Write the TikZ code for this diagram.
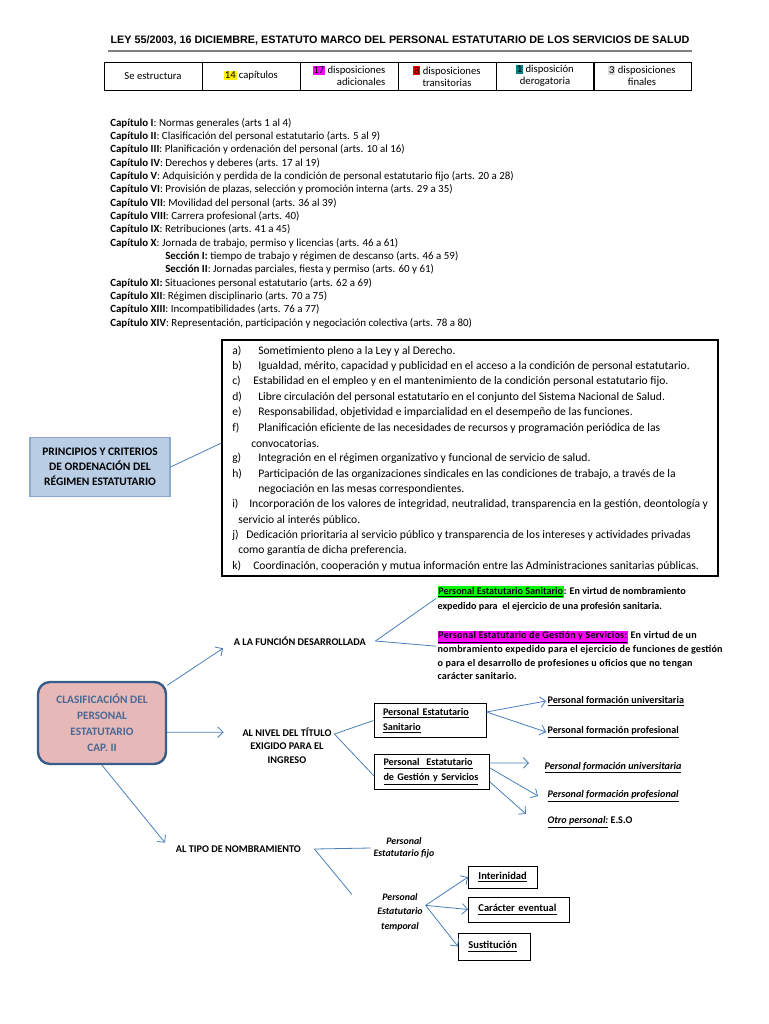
\documentclass[tikz,border=0pt]{standalone}
\usepackage{fontspec}
\setmainfont{Carlito}
\newfontfamily\titlefont{Liberation Sans}
\usetikzlibrary{arrows.meta}

\definecolor{linkblue}{HTML}{4A7EBB}
\definecolor{prinfill}{HTML}{B9CDE5}
\definecolor{prindraw}{HTML}{8DA9D0}
\definecolor{clasfill}{HTML}{E6B9B8}
\definecolor{clasdraw}{HTML}{385D8A}
\definecolor{clastext}{HTML}{4A6894}
\definecolor{hlgreen}{HTML}{00FF00}
\definecolor{hlpink}{HTML}{FF00FF}
\definecolor{hlred}{HTML}{FF0000}
\definecolor{hlteal}{HTML}{008080}
\definecolor{hlgray}{HTML}{D9D9D9}
\definecolor{rulegray}{HTML}{7F7F7F}

\newcommand{\marca}[2]{{\setlength{\fboxsep}{0.6pt}\colorbox{#1}{#2}}}

\begin{document}
\begin{tikzpicture}[x=0.75pt,y=-0.75pt]

\tikzstyle{cell}=[draw,minimum width=73.5pt,minimum height=21pt,inner sep=0pt,align=center,font=\fontsize{8}{9}\selectfont];
\tikzstyle{capline}=[anchor=west,inner sep=0pt,font=\fontsize{8.2}{9}\selectfont];
\tikzstyle{item}=[anchor=west,inner sep=0pt,font=\fontsize{8.7}{10}\selectfont];
\tikzstyle{lab}=[inner sep=2pt,font=\bfseries\fontsize{7.7}{10.1}\selectfont];
\tikzstyle{desc}=[anchor=west,align=left,inner sep=1pt];
\tikzstyle{ref}=[anchor=west,inner sep=1pt,font=\bfseries\fontsize{7.6}{9}\selectfont];
\tikzstyle{tbox}=[draw,line width=0.7pt,align=left,minimum height=26pt,inner xsep=6.75pt,font=\bfseries\fontsize{7.6}{11.25}\selectfont];
\tikzstyle{nbox}=[draw,line width=0.7pt,anchor=west,align=left,inner xsep=7.5pt,font=\bfseries\fontsize{7.9}{9}\selectfont];
\tikzstyle{link}=[linkblue,line width=0.6pt];
\tikzstyle{arr}=[link,-{Straight Barb[length=4pt,width=8pt]}];

\useasboundingbox (0,0) rectangle (768,1024);

% title and table
\node[font=\titlefont\bfseries\fontsize{8.1}{9}\selectfont] (title) at (400,40) {LEY 55/2003, 16 DICIEMBRE, ESTATUTO MARCO DEL PERSONAL ESTATUTARIO DE LOS SERVICIOS DE SALUD};
\draw[rulegray,line width=1.5pt] (108,51) -- (692,51);

\node[cell] (t1) at (153,76) {Se estructura};
\node[cell] (t2) at (251,76) {\marca{yellow}{14} capítulos};
\node[cell,align=right] (t3) at (349,76) {\marca{hlpink}{17} disposiciones\\adicionales};
\node[cell] (t4) at (447,76) {\marca{hlred}{8} disposiciones\\transitorias};
\node[cell] (t5) at (545,76) {\marca{hlteal}{1} disposición\\derogatoria};
\node[cell] (t6) at (642,76) {\marca{hlgray}{3} disposiciones\\finales};

% capitulos
\node[capline] (c1) at (110,123) {\textbf{Capítulo I}: Normas generales (arts 1 al 4)};
\node[capline] (c2) at (110,136.3) {\textbf{Capítulo II}: Clasificación del personal estatutario (arts. 5 al 9)};
\node[capline] (c3) at (110,149.7) {\textbf{Capítulo III}: Planificación y ordenación del personal (arts. 10 al 16)};
\node[capline] (c4) at (110,163) {\textbf{Capítulo IV}: Derechos y deberes (arts. 17 al 19)};
\node[capline] (c5) at (110,176.3) {\textbf{Capítulo V}: Adquisición y perdida de la condición de personal estatutario fijo (arts. 20 a 28)};
\node[capline] (c6) at (110,189.7) {\textbf{Capítulo VI}: Provisión de plazas, selección y promoción interna (arts. 29 a 35)};
\node[capline] (c7) at (110,203) {\textbf{Capítulo VII}: Movilidad del personal (arts. 36 al 39)};
\node[capline] (c8) at (110,216.3) {\textbf{Capítulo VIII}: Carrera profesional (arts. 40)};
\node[capline] (c9) at (110,229.7) {\textbf{Capítulo IX}: Retribuciones (arts. 41 a 45)};
\node[capline] (c10) at (110,243) {\textbf{Capítulo X}: Jornada de trabajo, permiso y licencias (arts. 46 a 61)};
\node[capline] (s1) at (165,256.3) {\textbf{Sección I:} tiempo de trabajo y régimen de descanso (arts. 46 a 59)};
\node[capline] (s2) at (165,269.7) {\textbf{Sección II}: Jornadas parciales, fiesta y permiso (arts. 60 y 61)};
\node[capline] (c11) at (110,283) {\textbf{Capítulo XI:} Situaciones personal estatutario (arts. 62 a 69)};
\node[capline] (c12) at (110,296.3) {\textbf{Capítulo XII}: Régimen disciplinario (arts. 70 a 75)};
\node[capline] (c13) at (110,309.7) {\textbf{Capítulo XIII}: Incompatibilidades (arts. 76 a 77)};
\node[capline] (c14) at (110,323) {\textbf{Capítulo XIV}: Representación, participación y negociación colectiva (arts. 78 a 80)};

% principios
\node[draw,line width=0.8pt,minimum width=372pt,minimum height=177pt] (pbox) at (470,458) {};
\node[item] (pa) at (232,351) {\makebox[19.5pt][l]{a)}Sometimiento pleno a la Ley y al Derecho.};
\node[item] (pb) at (232,366.4) {\makebox[19.5pt][l]{b)}Igualdad, mérito, capacidad y publicidad en el acceso a la condición de personal estatutario.};
\node[item] (pc) at (232,381.7) {\makebox[15.75pt][l]{c)}Estabilidad en el empleo y en el mantenimiento de la condición personal estatutario fijo.};
\node[item] (pd) at (232,397.1) {\makebox[19.5pt][l]{d)}Libre circulación del personal estatutario en el conjunto del Sistema Nacional de Salud.};
\node[item] (pe) at (232,412.4) {\makebox[19.5pt][l]{e)}Responsabilidad, objetividad e imparcialidad en el desempeño de las funciones.};
\node[item] (pf) at (232,427.8) {\makebox[19.5pt][l]{f)}Planificación eficiente de las necesidades de recursos y programación periódica de las};
\node[item] (pf2) at (251,443.2) {convocatorias.};
\node[item] (pg) at (232,458.5) {\makebox[19.5pt][l]{g)}Integración en el régimen organizativo y funcional de servicio de salud.};
\node[item] (ph) at (232,473.9) {\makebox[19.5pt][l]{h)}Participación de las organizaciones sindicales en las condiciones de trabajo, a través de la};
\node[item] (ph2) at (258,489.2) {negociación en las mesas correspondientes.};
\node[item] (pi) at (232,504.6) {\makebox[12.75pt][l]{i)}Incorporación de los valores de integridad, neutralidad, transparencia en la gestión, deontología y};
\node[item] (pi2) at (238,520) {servicio al interés público.};
\node[item] (pj) at (232,535.3) {\makebox[10.5pt][l]{j)}Dedicación prioritaria al servicio público y transparencia de los intereses y actividades privadas};
\node[item] (pj2) at (238,550.7) {como garantía de dicha preferencia.};
\node[item] (pk) at (232,566) {\makebox[15.75pt][l]{k)}Coordinación, cooperación y mutua información entre las Administraciones sanitarias públicas.};

\node[draw=prindraw,fill=prinfill,line width=0.8pt,minimum width=105pt,minimum height=44.25pt,align=center,font=\bfseries\fontsize{8.6}{11.25}\selectfont] (prin) at (100,467) {PRINCIPIOS Y CRITERIOS\\DE ORDENACIÓN DEL\\RÉGIMEN ESTATUTARIO};
\draw[link] (prin.east) -- ([yshift=11.25pt]pbox.west);

% clasificacion
\node[draw=clasdraw,fill=clasfill,line width=1.8pt,rounded corners=9pt,minimum width=96pt,minimum height=61.5pt,align=center,text=clastext,font=\bfseries\fontsize{8.5}{12}\selectfont] (clas) at (102,723) {CLASIFICACIÓN DEL\\PERSONAL\\ESTATUTARIO\\CAP. II};

\node[lab,anchor=west] (fun) at (231,641) {A LA FUNCIÓN DESARROLLADA};
\node[lab,align=center] (niv) at (287,745.5) {AL NIVEL DEL TÍTULO\\EXIGIDO PARA EL\\INGRESO};
\node[lab,anchor=west] (tipo) at (173,849) {AL TIPO DE NOMBRAMIENTO};

\draw[arr] (clas.30) -- ([xshift=-6pt]fun.south west);
\draw[arr] ([yshift=-7pt]clas.east) -- ([xshift=-12pt,yshift=10pt]niv.west);
\draw[arr] (clas.south) -- ([xshift=-6pt]tipo.north west);

% a la funcion desarrollada
\node[desc,font=\bfseries\fontsize{7.6}{11.25}\selectfont] (san) at (436,598.5) {\marca{hlgreen}{\underline{Personal Estatutario Sanitario}}: En virtud de nombramiento\\expedido para\ \ el ejercicio de una profesión sanitaria.};
\node[desc,font=\bfseries\fontsize{7.6}{10.25}\selectfont\addfontfeature{LetterSpace=2}] (ges) at (436,655.5) {\marca{hlpink}{\underline{Personal Estatutario de Gestión y Servicios:}} En virtud de un\\nombramiento expedido para el ejercicio de funciones de gestión\\o para el desarrollo de profesiones u oficios que no tengan\\carácter sanitario.};
\coordinate (funr) at ([xshift=5pt]fun.east);
\draw[link] (funr) -- (san.west);
\draw[link] (funr) -- ([yshift=7pt]ges.west);

% al nivel del titulo
\node[tbox,text width=70.5pt] (sanbox) at (430,720.5) {\underline{Personal Estatutario}\\\underline{Sanitario}};
\node[tbox,text width=72.75pt] (gesbox) at (432,772) {\underline{Personal\ \ Estatutario}\\\underline{de Gestión y Servicios}};
\coordinate (nivr) at ([yshift=8.6pt]niv.east);
\draw[link] (nivr) -- (sanbox.west);
\draw[link] (nivr) -- ([yshift=-3pt]gesbox.west);

\node[ref] (u1) at (546,701) {\underline{Personal formación universitaria}};
\node[ref] (p1) at (546,732) {\underline{Personal formación profesional}};
\node[ref] (u2) at (543,768) {\underline{\textit{Personal formación universitaria}}};
\node[ref] (p2) at (546,796) {\underline{\textit{Personal formación profesional}}};
\node[ref] (otro) at (546,822) {\underline{\textit{Otro personal:}} E.S.O};

\draw[arr] ([yshift=6.4pt]sanbox.east) -- (u1.west);
\draw[arr] ([yshift=6.4pt]sanbox.east) -- (p1.west);
\draw[arr] ([yshift=6.8pt]gesbox.east) -- ([xshift=-10.5pt,yshift=3.75pt]u2.west);
\draw[arr] ([yshift=3pt]gesbox.east) -- ([xshift=-6pt]p2.west);
\draw[arr] ([yshift=-7.5pt]gesbox.east) -- ([xshift=-15pt,yshift=6pt]otro.west);

% al tipo de nombramiento
\node[lab,align=center,font=\bfseries\itshape\fontsize{7.4}{9}\selectfont] (fijo) at (404,848) {Personal\\Estatutario fijo};
\node[lab,align=center,font=\bfseries\itshape\fontsize{7.4}{10.9}\selectfont] (temp) at (400,912) {Personal\\Estatutario\\temporal};
\coordinate (tipor) at ([xshift=8pt]tipo.east);
\draw[link] (tipor) -- (fijo.west);
\draw[link] (tipor) -- ([xshift=-17pt,yshift=-3pt]temp.north west);

\node[nbox,text width=36.75pt,minimum height=16.5pt] (inter) at (468,877) {\underline{Interinidad}};
\node[nbox,text width=60.75pt,minimum height=18.75pt] (car) at (468,909.5) {\underline{Carácter eventual}};
\node[nbox,text width=39pt,minimum height=20.25pt] (sus) at (458,946.5) {\underline{Sustitución}};
\coordinate (tempr) at ([yshift=5pt]temp.east);
\draw[arr] (tempr) -- (inter.west);
\draw[arr] (tempr) -- (car.west);
\draw[arr] (tempr) -- (sus.west);

\end{tikzpicture}
\end{document}
